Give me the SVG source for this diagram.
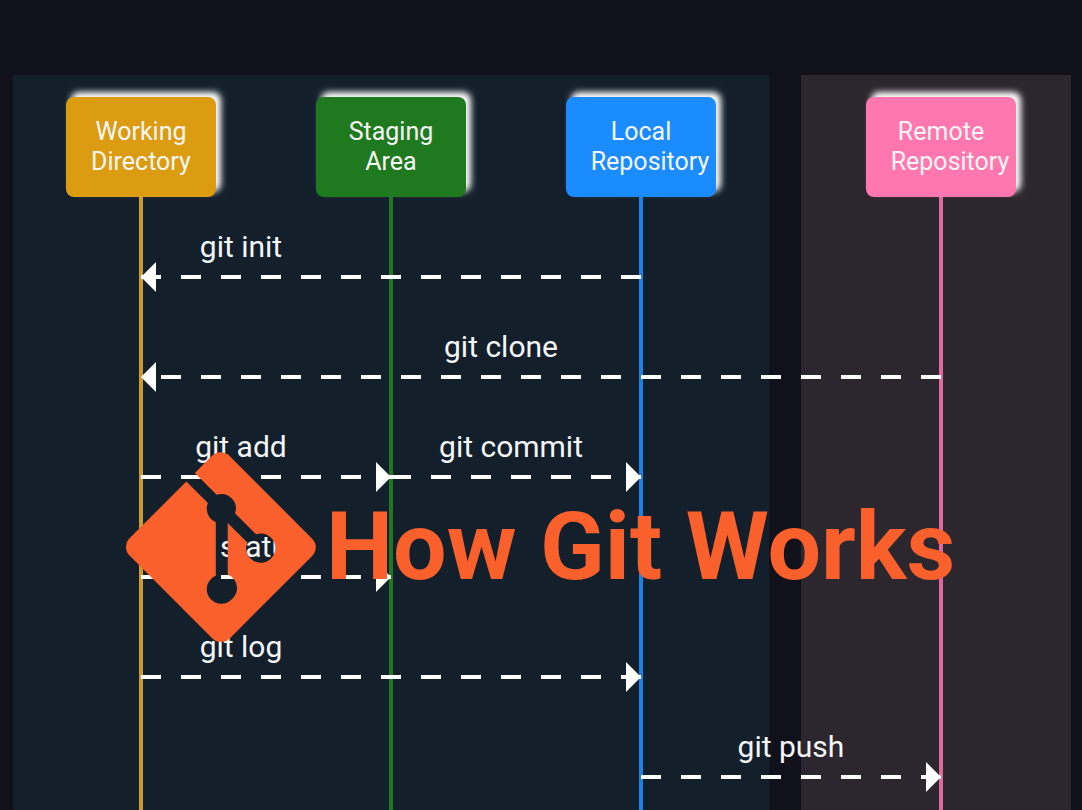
<svg xmlns="http://www.w3.org/2000/svg" width="1082" height="810" viewBox="0 0 1082 810">
<defs>
<filter id="glow" x="-20%" y="-20%" width="140%" height="140%"><feGaussianBlur stdDeviation="3"/></filter>
<marker id="ah" markerUnits="userSpaceOnUse" markerWidth="16" markerHeight="32" refX="15" refY="15" orient="auto-start-reverse" viewBox="0 0 16 30"><path d="M0 0L15 15L0 30Z" fill="#fff"/></marker>
</defs>
<style>
.n{font:25px Roboto,"Liberation Sans",sans-serif;fill:#f6f6f6;text-anchor:middle}
.l{font:30px Roboto,"Liberation Sans",sans-serif;fill:#f4f6f8;text-anchor:middle}
.m{stroke:#fff;stroke-width:4;stroke-dasharray:20 20;fill:none}
.life{stroke-width:4;fill:none}
.g{fill:#fff;filter:url(#glow)}
</style>
<rect width="1082" height="810" fill="#11111b"/>
<rect x="13" y="75" width="756" height="735" fill="#13202b"/>
<rect x="801" y="75" width="270" height="735" fill="#2c262e"/>
<g id="lifelines">
<line class="life" x1="141" y1="196" x2="141" y2="810" stroke="#cf9a2c"/>
<line class="life" x1="391" y1="196" x2="391" y2="810" stroke="#1f7a1f"/>
<line class="life" x1="641" y1="196" x2="641" y2="810" stroke="#1e80e0"/>
<line class="life" x1="941" y1="196" x2="941" y2="810" stroke="#e0689f"/>
</g>
<g id="connectors">
<path class="m" d="M641 277H141" marker-end="url(#ah)"/>
<path class="m" d="M941 377H141" marker-end="url(#ah)"/>
<path class="m" d="M141 477H391" marker-end="url(#ah)"/>
<path class="m" d="M391 477H641" marker-end="url(#ah)"/>
<path class="m" d="M141 577H391" marker-end="url(#ah)"/>
<path class="m" d="M141 677H641" marker-end="url(#ah)"/>
<path class="m" d="M641 777H941" marker-end="url(#ah)"/>
</g>
<g id="labels">
<text class="l" x="241" y="257">git init</text>
<text class="l" x="501" y="357">git clone</text>
<text class="l" x="241" y="457">git add</text>
<text class="l" x="511" y="457">git commit</text>
<text class="l" x="241" y="557">git status</text>
<text class="l" x="241" y="657">git log</text>
<text class="l" x="791" y="757">git push</text>
</g>
<g id="logo">
<path transform="translate(126 452) scale(2.065)" fill="#fa602c" d="M90.156 41.965 50.036 1.848a5.918 5.918 0 0 0-8.372 0l-8.328 8.332 10.566 10.566a7.03 7.03 0 0 1 7.23 1.684 7.034 7.034 0 0 1 1.669 7.277l10.187 10.184a7.028 7.028 0 0 1 7.278 1.672 7.04 7.04 0 0 1 0 9.957 7.05 7.05 0 0 1-9.965 0 7.044 7.044 0 0 1-1.528-7.66l-9.5-9.497V59.36a7.04 7.04 0 0 1 1.86 12.04 7.04 7.04 0 0 1-9.957 0 7.04 7.04 0 0 1 0-9.958 7.06 7.06 0 0 1 2.304-1.539V33.926a7.049 7.049 0 0 1-3.82-9.234L29.242 14.272 1.73 41.777a5.925 5.925 0 0 0 0 8.371L41.852 90.27a5.925 5.925 0 0 0 8.37 0l39.934-39.934a5.925 5.925 0 0 0 0-8.371"/>
<text x="326" y="579" font-family="Roboto,'Liberation Sans',sans-serif" font-weight="700" font-size="95" fill="#fa602c">How Git Works</text>
</g>
<g id="node-working"><rect class="g" x="71" y="92" width="150" height="100" rx="8"/><rect x="66" y="97" width="150" height="100" rx="8" fill="#dc9c12"/><text class="n" x="141" y="140">Working</text><text class="n" x="141" y="170">Directory</text></g>
<g id="node-staging"><rect class="g" x="321" y="92" width="150" height="100" rx="8"/><rect x="316" y="97" width="150" height="100" rx="8" fill="#1f7a1f"/><text class="n" x="391" y="140">Staging</text><text class="n" x="391" y="170">Area</text></g>
<g id="node-local"><rect class="g" x="571" y="92" width="150" height="100" rx="8"/><rect x="566" y="97" width="150" height="100" rx="8" fill="#1a8cff"/><text class="n" x="641" y="140">Local</text><text class="n" x="650" y="170">Repository</text></g>
<g id="node-remote"><rect class="g" x="871" y="92" width="150" height="100" rx="8"/><rect x="866" y="97" width="150" height="100" rx="8" fill="#ff77ae"/><text class="n" x="941" y="140">Remote</text><text class="n" x="950" y="170">Repository</text></g>
</svg>
